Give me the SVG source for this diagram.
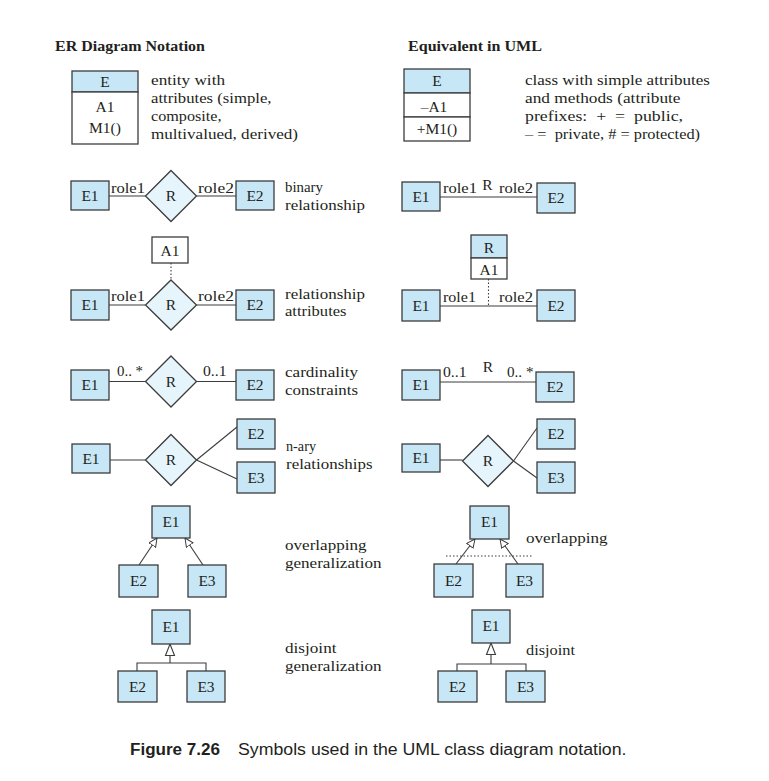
<svg xmlns="http://www.w3.org/2000/svg" width="769" height="781" viewBox="0 0 769 781">
<style>
text{font-family:"Liberation Serif","Times New Roman",serif;font-size:15.5px;fill:#231f20}
.c{text-anchor:middle}
.h{font-weight:bold;font-size:15px}
.cap{font-family:"Liberation Sans",Arial,sans-serif;font-size:16px}
.ent{fill:#c7e6f6;stroke:#3c3c3c;stroke-width:1.3}
.wb{fill:#ffffff;stroke:#3c3c3c;stroke-width:1.3}
.dia{fill:#e6f4fb;stroke:#3c3c3c;stroke-width:1.3}
.ln{stroke:#3c3c3c;stroke-width:1.1;fill:none}
.dot{stroke:#3c3c3c;stroke-width:1.1;fill:none;stroke-dasharray:1.5 2}
.tri{fill:#ffffff;stroke:#3c3c3c;stroke-width:1.1}
</style>
<defs>
<marker id="gen" markerUnits="userSpaceOnUse" markerWidth="12" markerHeight="12" refX="9" refY="4.5" orient="auto">
<path d="M0.5,0.5 L9,4.5 L0.5,8.5 z" fill="#ffffff" stroke="#3c3c3c" stroke-width="1"/>
</marker>
</defs>
<rect width="769" height="781" fill="#ffffff"/>

<text class="h" x="55" y="51" textLength="150" lengthAdjust="spacingAndGlyphs">ER Diagram Notation</text>
<text class="h" x="408" y="51" textLength="134" lengthAdjust="spacingAndGlyphs">Equivalent in UML</text>

<!-- connectors -->
<g id="connectors">
<line class="ln" x1="109" y1="196" x2="145.5" y2="196"/>
<line class="ln" x1="196.5" y1="196" x2="236" y2="196"/>
<line class="ln" x1="440" y1="197" x2="537" y2="197"/>
<line class="dot" x1="171" y1="263" x2="171" y2="280"/>
<line class="ln" x1="109" y1="305" x2="145.5" y2="305"/>
<line class="ln" x1="196.5" y1="305" x2="236" y2="305"/>
<line class="dot" x1="488.5" y1="279" x2="488.5" y2="306"/>
<line class="ln" x1="440" y1="306" x2="537" y2="306"/>
<line class="ln" x1="109" y1="381.5" x2="145.5" y2="381.5"/>
<line class="ln" x1="196.5" y1="381.5" x2="236" y2="381.5"/>
<line class="ln" x1="440" y1="382" x2="536" y2="382"/>
<line class="ln" x1="110" y1="460" x2="145.5" y2="460"/>
<line class="ln" x1="196.5" y1="460" x2="237" y2="427"/>
<line class="ln" x1="196.5" y1="460" x2="237" y2="479"/>
<line class="ln" x1="440" y1="460" x2="462.5" y2="460"/>
<line class="ln" x1="513.5" y1="461" x2="537" y2="428"/>
<line class="ln" x1="513.5" y1="461" x2="537" y2="478"/>
<line class="ln" x1="139" y1="565" x2="157" y2="538" marker-end="url(#gen)"/>
<line class="ln" x1="203" y1="565" x2="185" y2="538" marker-end="url(#gen)"/>
<line class="dot" x1="446" y1="556" x2="532" y2="556"/>
<line class="ln" x1="456" y1="564" x2="475" y2="539" marker-end="url(#gen)"/>
<line class="ln" x1="518" y1="564" x2="500" y2="539" marker-end="url(#gen)"/>
<polyline class="ln" points="137,671 137,663 206,663 206,671"/>
<line class="ln" x1="170" y1="655" x2="170" y2="663"/>
<polygon class="tri" points="170,644 174.5,655.5 165.5,655.5"/>
<polyline class="ln" points="457,671 457,664 526,664 526,671"/>
<line class="ln" x1="491" y1="654" x2="491" y2="664"/>
<polygon class="tri" points="491,643 495.5,654.5 486.5,654.5"/>
</g>

<!-- top entity -->
<g id="er-entity">
<rect class="ent" x="72" y="71" width="66" height="21"/>
<rect class="wb" x="72" y="92" width="66" height="52"/>
<text class="c" x="105" y="87">E</text>
<text class="c" x="105" y="112">A1</text>
<text class="c" x="105" y="133">M1()</text>
</g>
<g id="er-entity-desc">
<text x="151" y="85" textLength="74" lengthAdjust="spacingAndGlyphs">entity with</text>
<text x="151" y="103" textLength="120.5" lengthAdjust="spacingAndGlyphs">attributes (simple,</text>
<text x="151" y="121" textLength="70.5" lengthAdjust="spacingAndGlyphs">composite,</text>
<text x="151" y="139" textLength="147" lengthAdjust="spacingAndGlyphs">multivalued, derived)</text>
</g>
<g id="uml-class">
<rect class="ent" x="404" y="69" width="66" height="24"/>
<rect class="wb" x="404" y="93" width="66" height="24"/>
<rect class="wb" x="404" y="117" width="66" height="24"/>
<text class="c" x="437" y="86">E</text>
<text class="c" x="434" y="112">–A1</text>
<text class="c" x="437" y="134">+M1()</text>
</g>
<g id="uml-class-desc">
<text x="525" y="85" textLength="185" lengthAdjust="spacingAndGlyphs">class with simple attributes</text>
<text x="525" y="103" textLength="155.5" lengthAdjust="spacingAndGlyphs">and methods (attribute</text>
<text x="525" y="121" textLength="158" lengthAdjust="spacingAndGlyphs" xml:space="preserve">prefixes:  +  =  public,</text>
<text x="525" y="139" textLength="175" lengthAdjust="spacingAndGlyphs" xml:space="preserve">– =  private, # = protected)</text>
</g>

<!-- binary -->
<g id="bin-er-e1"><rect class="ent" x="71" y="181" width="38" height="29"/><text class="c" x="90" y="201">E1</text></g>
<g id="bin-er-r"><polygon class="dia" points="171,170.5 196.5,196 171,221.5 145.5,196"/><text class="c" x="171" y="201">R</text></g>
<g id="bin-er-e2"><rect class="ent" x="236" y="181" width="38" height="29"/><text class="c" x="255" y="201">E2</text></g>
<text x="111" y="193" textLength="34" lengthAdjust="spacingAndGlyphs">role1</text>
<text x="198" y="193" textLength="36" lengthAdjust="spacingAndGlyphs">role2</text>
<text x="285" y="192" textLength="38" lengthAdjust="spacingAndGlyphs">binary</text>
<text x="285" y="210" textLength="80" lengthAdjust="spacingAndGlyphs">relationship</text>

<g id="bin-uml-e1"><rect class="ent" x="402" y="182" width="38" height="29"/><text class="c" x="421" y="202">E1</text></g>
<g id="bin-uml-e2"><rect class="ent" x="537" y="183" width="38" height="30"/><text class="c" x="556" y="203">E2</text></g>
<text x="443" y="193" textLength="34" lengthAdjust="spacingAndGlyphs">role1</text>
<text class="c" x="487.5" y="190">R</text>
<text x="499" y="193" textLength="34" lengthAdjust="spacingAndGlyphs">role2</text>

<!-- relationship attributes -->
<g id="ra-er-a1"><rect class="wb" x="152" y="237" width="36" height="26"/><text class="c" x="170" y="256">A1</text></g>
<g id="ra-er-r"><polygon class="dia" points="171,280 196.5,305 171,330 145.5,305"/><text class="c" x="171" y="310">R</text></g>
<g id="ra-er-e1"><rect class="ent" x="71" y="290" width="38" height="30"/><text class="c" x="90" y="310">E1</text></g>
<g id="ra-er-e2"><rect class="ent" x="236" y="290" width="38" height="30"/><text class="c" x="255" y="310">E2</text></g>
<text x="111" y="301" textLength="34" lengthAdjust="spacingAndGlyphs">role1</text>
<text x="198" y="301" textLength="36" lengthAdjust="spacingAndGlyphs">role2</text>
<text x="285" y="299" textLength="80" lengthAdjust="spacingAndGlyphs">relationship</text>
<text x="285" y="316" textLength="61.5" lengthAdjust="spacingAndGlyphs">attributes</text>

<g id="ra-uml-r"><rect class="ent" x="471" y="235" width="36" height="23"/><rect class="wb" x="471" y="258" width="36" height="21"/><text class="c" x="489" y="253">R</text><text class="c" x="489" y="275">A1</text></g>
<g id="ra-uml-e1"><rect class="ent" x="402" y="290" width="38" height="31"/><text class="c" x="421" y="311">E1</text></g>
<g id="ra-uml-e2"><rect class="ent" x="537" y="290" width="38" height="31"/><text class="c" x="556" y="311">E2</text></g>
<text x="443" y="302" textLength="33" lengthAdjust="spacingAndGlyphs">role1</text>
<text x="499" y="302" textLength="34" lengthAdjust="spacingAndGlyphs">role2</text>

<!-- cardinality -->
<g id="cc-er-e1"><rect class="ent" x="71" y="370" width="38" height="30"/><text class="c" x="90" y="390">E1</text></g>
<g id="cc-er-r"><polygon class="dia" points="171,356 196.5,381.5 171,407 145.5,381.5"/><text class="c" x="171" y="386.5">R</text></g>
<g id="cc-er-e2"><rect class="ent" x="236" y="370" width="38" height="30"/><text class="c" x="255" y="390">E2</text></g>
<text x="117" y="376" textLength="26" lengthAdjust="spacingAndGlyphs">0.. *</text>
<text x="203" y="376" textLength="23.5" lengthAdjust="spacingAndGlyphs">0..1</text>
<text x="285" y="377" textLength="73" lengthAdjust="spacingAndGlyphs">cardinality</text>
<text x="285" y="395" textLength="73" lengthAdjust="spacingAndGlyphs">constraints</text>

<g id="cc-uml-e1"><rect class="ent" x="402" y="370" width="38" height="30"/><text class="c" x="421" y="390">E1</text></g>
<g id="cc-uml-e2"><rect class="ent" x="536" y="372" width="38" height="30"/><text class="c" x="555" y="392">E2</text></g>
<text x="443" y="377" textLength="23.5" lengthAdjust="spacingAndGlyphs">0..1</text>
<text class="c" x="488" y="372">R</text>
<text x="507" y="377" textLength="26.5" lengthAdjust="spacingAndGlyphs">0.. *</text>

<!-- n-ary -->
<g id="na-er-e1"><rect class="ent" x="72" y="444" width="38" height="29"/><text class="c" x="91" y="464">E1</text></g>
<g id="na-er-r"><polygon class="dia" points="171,434.5 196.5,460 171,485.5 145.5,460"/><text class="c" x="171" y="465">R</text></g>
<g id="na-er-e2"><rect class="ent" x="237" y="419" width="38" height="30"/><text class="c" x="256" y="439">E2</text></g>
<g id="na-er-e3"><rect class="ent" x="237" y="462" width="38" height="31"/><text class="c" x="256" y="483">E3</text></g>
<text x="286" y="451" textLength="30" lengthAdjust="spacingAndGlyphs">n-ary</text>
<text x="286" y="469" textLength="86.5" lengthAdjust="spacingAndGlyphs">relationships</text>

<g id="na-uml-e1"><rect class="ent" x="402" y="444" width="38" height="28"/><text class="c" x="421" y="463">E1</text></g>
<g id="na-uml-r"><polygon class="dia" points="488,435.5 513.5,461 488,486.5 462.5,461"/><text class="c" x="488" y="466">R</text></g>
<g id="na-uml-e2"><rect class="ent" x="537" y="419" width="38" height="30"/><text class="c" x="556" y="439">E2</text></g>
<g id="na-uml-e3"><rect class="ent" x="537" y="462" width="38" height="31"/><text class="c" x="556" y="483">E3</text></g>

<!-- overlapping -->
<g id="ov-er-e1"><rect class="ent" x="152" y="506" width="38" height="32"/><text class="c" x="171" y="527">E1</text></g>
<g id="ov-er-e2"><rect class="ent" x="119" y="565" width="39" height="32"/><text class="c" x="138.5" y="586">E2</text></g>
<g id="ov-er-e3"><rect class="ent" x="188" y="565" width="38" height="32"/><text class="c" x="207" y="586">E3</text></g>
<text x="285" y="550" textLength="81.5" lengthAdjust="spacingAndGlyphs">overlapping</text>
<text x="285" y="568" textLength="96.5" lengthAdjust="spacingAndGlyphs">generalization</text>

<g id="ov-uml-e1"><rect class="ent" x="470" y="506" width="39" height="33"/><text class="c" x="489.5" y="527">E1</text></g>
<g id="ov-uml-e2"><rect class="ent" x="434" y="564" width="39" height="33"/><text class="c" x="453.5" y="586">E2</text></g>
<g id="ov-uml-e3"><rect class="ent" x="506" y="564" width="37" height="33"/><text class="c" x="524.5" y="586">E3</text></g>
<text x="526" y="543" textLength="81.5" lengthAdjust="spacingAndGlyphs">overlapping</text>

<!-- disjoint -->
<g id="dj-er-e1"><rect class="ent" x="152" y="610" width="38" height="34"/><text class="c" x="171" y="632">E1</text></g>
<g id="dj-er-e2"><rect class="ent" x="118" y="671" width="39" height="31"/><text class="c" x="137.5" y="692">E2</text></g>
<g id="dj-er-e3"><rect class="ent" x="187" y="671" width="38" height="31"/><text class="c" x="206" y="692">E3</text></g>
<text x="285" y="653" textLength="51.5" lengthAdjust="spacingAndGlyphs">disjoint</text>
<text x="285" y="671" textLength="96.5" lengthAdjust="spacingAndGlyphs">generalization</text>

<g id="dj-uml-e1"><rect class="ent" x="472" y="610" width="38" height="33"/><text class="c" x="491" y="631">E1</text></g>
<g id="dj-uml-e2"><rect class="ent" x="438" y="671" width="39" height="31"/><text class="c" x="457.5" y="692">E2</text></g>
<g id="dj-uml-e3"><rect class="ent" x="506" y="671" width="39" height="31"/><text class="c" x="525.5" y="692">E3</text></g>
<text x="526" y="655" textLength="49" lengthAdjust="spacingAndGlyphs">disjoint</text>

<!-- caption -->
<text class="cap" x="130" y="755" font-weight="bold" textLength="90" lengthAdjust="spacingAndGlyphs">Figure 7.26</text>
<text class="cap" x="238" y="755" textLength="388.5" lengthAdjust="spacingAndGlyphs">Symbols used in the UML class diagram notation.</text>
</svg>
